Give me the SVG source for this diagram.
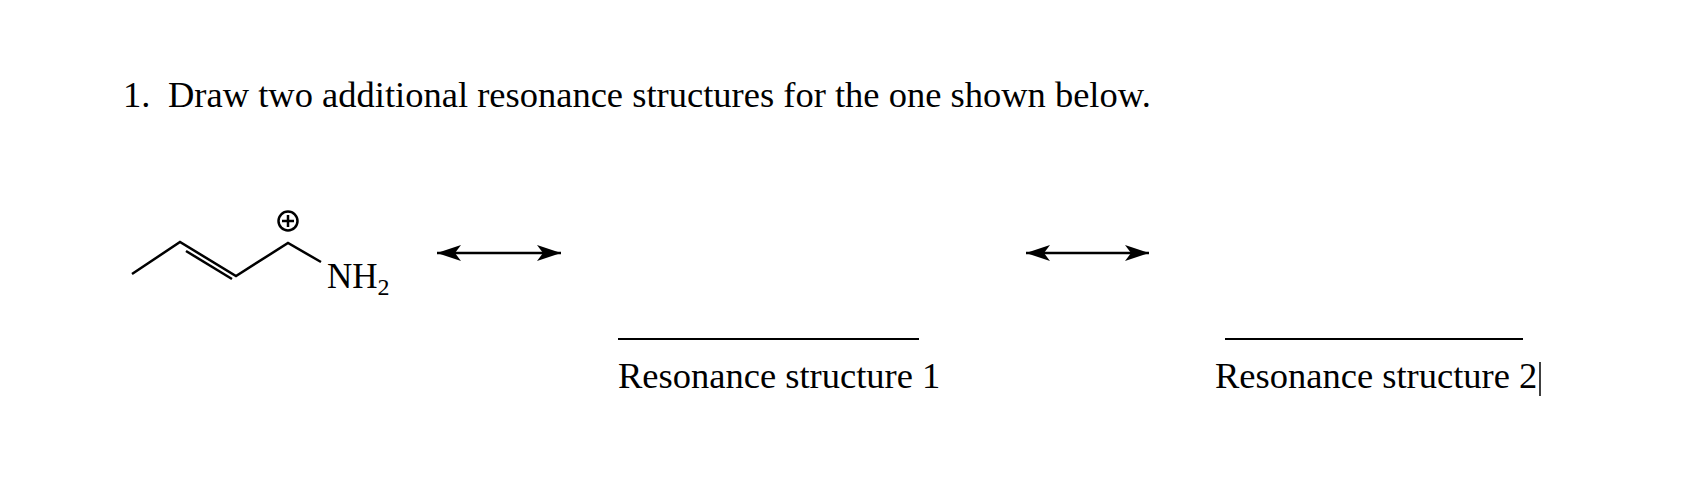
<svg xmlns="http://www.w3.org/2000/svg" width="1681" height="478" viewBox="0 0 1681 478">
<style>
text{font-family:"Liberation Serif","Times New Roman",serif;fill:#000}
.t{font-size:36.5px}
.b{stroke:#000;stroke-width:2.5;fill:none}
</style>
<defs><marker id="ah" viewBox="0 0 24 16" refX="24" refY="8" markerWidth="24" markerHeight="16" markerUnits="userSpaceOnUse" orient="auto-start-reverse"><path d="M0,0 L24,8 L0,16 L6,8 Z" fill="#000"/></marker></defs>
<rect width="1681" height="478" fill="#fff"/>
<text class="t" x="123" y="107">1.</text>
<text class="t" x="168" y="107">Draw two additional resonance structures for the one shown below.</text>
<g id="molecule">
<polyline class="b" points="132,274 180,242 236,276 288,243 321,262"/>
<line class="b" x1="186" y1="251" x2="232" y2="279"/>
<circle cx="288" cy="221" r="9.5" class="b" stroke-width="2"/>
<path d="M282,221 H294 M288,215 V227" class="b" stroke-width="2"/>
<text x="327" y="288" font-size="35">NH<tspan font-size="24" dy="7">2</tspan></text>
</g>
<g id="connectors">
<line class="b" x1="437" y1="253" x2="561" y2="253" marker-start="url(#ah)" marker-end="url(#ah)"/>
<line class="b" x1="1026" y1="253" x2="1149" y2="253" marker-start="url(#ah)" marker-end="url(#ah)"/>
</g>
<g id="rs1">
<line x1="618" y1="339" x2="919" y2="339" stroke="#000" stroke-width="2"/>
<text class="t" x="618" y="388">Resonance structure 1</text>
</g>
<g id="rs2">
<line x1="1225" y1="339" x2="1523" y2="339" stroke="#000" stroke-width="2"/>
<text class="t" x="1215" y="388">Resonance structure 2</text>
<line x1="1540" y1="362" x2="1540" y2="396" stroke="#000" stroke-width="1.5"/>
</g>
</svg>
